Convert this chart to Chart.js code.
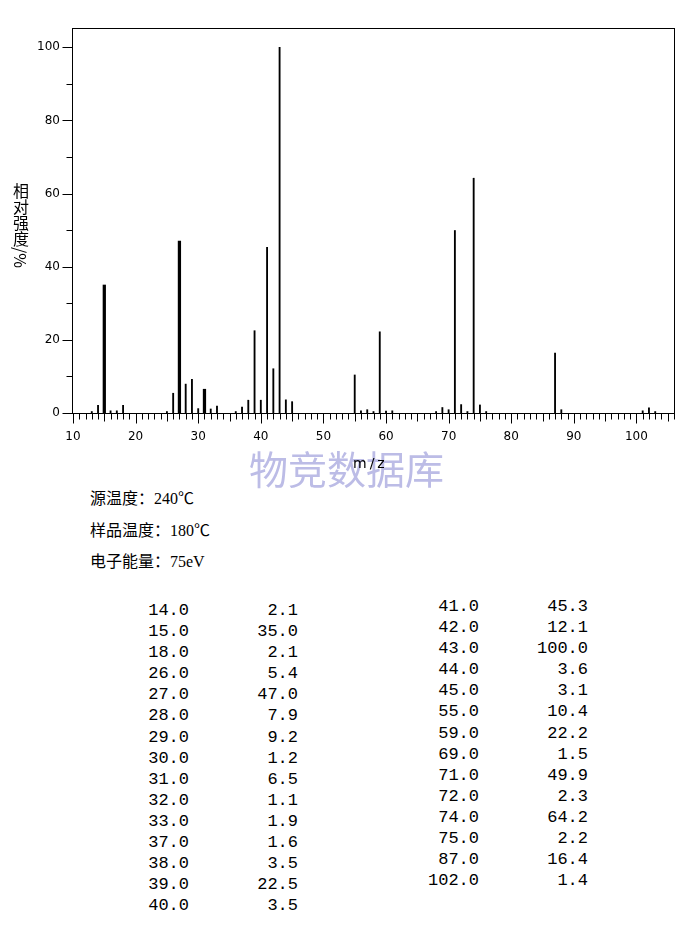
<!DOCTYPE html>
<html lang="zh">
<head>
  <meta charset="UTF-8">
  <title>质谱图</title>
  <script src="https://cdn.jsdelivr.net/npm/chart.js"></script>
  <style>
    body {
      margin: 0;
      width: 696px;
      height: 935px;
      background: #fff;
      position: relative;
      overflow: hidden;
    }
    #chart {
      position: absolute;
      left: 0;
      top: 0;
    }
    .abs { position: absolute; white-space: nowrap; }
    #ytitle {
      left: 12px;
      top: 183px;
      writing-mode: vertical-rl;
      font: 16px "Noto Sans CJK SC", sans-serif;
      line-height: 18px;
      color: #000;
    }
    #watermark {
      left: 249px;
      top: 442px;
      font: 39px "Noto Sans CJK SC", sans-serif;
      line-height: 50px;
      color: #bcbce6;
    }
    #xtitle {
      left: 353px;
      top: 455px;
      font: 14px "DejaVu Sans", sans-serif;
      letter-spacing: 3px;
      color: #000;
    }
    .info {
      left: 90px;
      font: 16px "Liberation Serif", "Noto Sans CJK SC", serif;
      line-height: 20px;
      color: #000;
    }
    .col {
      position: absolute;
      font: 17px "Liberation Mono", monospace;
      line-height: 21.1px;
      text-align: right;
      color: #000;
    }
  </style>
</head>
<body>

  <canvas id="chart" width="696" height="445"></canvas>

  <div id="ytitle" class="abs">相对强度/%</div>
  <div id="watermark" class="abs">物竞数据库</div>
  <div id="xtitle" class="abs">m/z</div>

  <div class="abs info" style="top:489px">源温度：240℃</div>
  <div class="abs info" style="top:521px">样品温度：180℃</div>
  <div class="abs info" style="top:552px">电子能量：75eV</div>

  <div id="mzLeft" class="col" style="left:120px; width:69px; top:600px"></div>
  <div id="intLeft" class="col" style="left:220px; width:78px; top:600px"></div>
  <div id="mzRight" class="col" style="left:400px; width:79px; top:596px"></div>
  <div id="intRight" class="col" style="left:500px; width:88px; top:596px"></div>

  <script>
    // m/z et intensités relatives (%)
    const mz = [13, 14, 15, 16, 17, 18, 25, 26, 27, 28, 29, 30, 31, 32, 33, 36, 37, 38, 39, 40,
                41, 42, 43, 44, 45, 55, 56, 57, 58, 59, 60, 61, 68, 69, 70, 71, 72, 73, 74, 75,
                76, 87, 88, 101, 102, 103];
    const intensity = [0.4, 2.1, 35.0, 0.6, 0.6, 2.1, 0.4, 5.4, 47.0, 7.9, 9.2, 1.2, 6.5, 1.1, 1.9, 0.4, 1.6, 3.5, 22.5, 3.5,
                       45.3, 12.1, 100.0, 3.6, 3.1, 10.4, 0.6, 0.9, 0.4, 22.2, 0.5, 0.6, 0.4, 1.5, 0.9, 49.9, 2.3, 0.4, 64.2, 2.2,
                       0.4, 16.4, 0.9, 0.6, 1.4, 0.4];
    const xTicks = [10, 20, 30, 40, 50, 60, 70, 80, 90, 100];
    const yTicks = [0, 20, 40, 60, 80, 100];
    const thickPeaks = [15, 27, 31];

    const points = mz.map((m, i) => ({ x: m, y: intensity[i] }));

    // Tableau des pics (>= 1 %)
    const listed = points.filter(p => p.y >= 1);
    const leftRows = listed.slice(0, 15);
    const rightRows = listed.slice(15);
    const fmt = rows => rows.map(p => p.x.toFixed(1)).join('<br>');
    const fmtI = rows => rows.map(p => p.y.toFixed(1)).join('<br>');
    document.getElementById('mzLeft').innerHTML = fmt(leftRows);
    document.getElementById('intLeft').innerHTML = fmtI(leftRows);
    document.getElementById('mzRight').innerHTML = fmt(rightRows);
    document.getElementById('intRight').innerHTML = fmtI(rightRows);

    // cadre + graduations
    const frame = {
      id: 'frame',
      afterDraw(chart) {
        const { ctx, chartArea: a, scales: { x, y } } = chart;
        ctx.save();
        ctx.strokeStyle = '#000';
        ctx.lineWidth = 1;
        const L = Math.round(a.left) - 0.5, R = Math.round(a.right) + 0.5;
        const T = Math.round(a.top) - 0.5, B = Math.round(a.bottom) + 0.5;
        ctx.strokeRect(L, T, R - L, B - T);
        ctx.beginPath();
        for (let v = x.min; v <= x.max; v++) {
          const px = Math.round(x.getPixelForValue(v)) + 0.5;
          const len = v % 10 === 0 ? 10 : (v % 5 === 0 ? 8 : 6);
          ctx.moveTo(px, B);
          ctx.lineTo(px, B + len);
        }
        for (let v = 0; v <= 100; v += 10) {
          const py = Math.round(y.getPixelForValue(v)) + 0.5;
          const len = v % 20 === 0 ? 10 : 6;
          ctx.moveTo(L - len, py);
          ctx.lineTo(L, py);
        }
        ctx.stroke();
        ctx.restore();
      }
    };

    const tickFont = { family: 'DejaVu Sans', size: 12 };

    new Chart(document.getElementById('chart'), {
      type: 'bar',
      data: {
        datasets: [
          {
            data: points.filter(p => !thickPeaks.includes(p.x)),
            backgroundColor: '#000',
            barThickness: 1.2,
            grouped: false
          },
          {
            data: points.filter(p => thickPeaks.includes(p.x)),
            backgroundColor: '#000',
            barThickness: 2.6,
            grouped: false
          }
        ]
      },
      options: {
        responsive: false,
        animation: false,
        layout: { padding: { left: 0, top: 29, right: 22, bottom: 0 } },
        plugins: {
          legend: { display: false },
          tooltip: { enabled: false }
        },
        scales: {
          x: {
            type: 'linear',
            min: 10,
            max: 106,
            offset: false,
            border: { display: false },
            grid: { display: false, drawTicks: false },
            afterBuildTicks: s => { s.ticks = xTicks.map(v => ({ value: v })); },
            afterFit: s => { s.height = 32; },
            ticks: { padding: 17, font: tickFont, color: '#000', maxRotation: 0 }
          },
          y: {
            min: 0,
            max: 105,
            border: { display: false },
            grid: { display: false, drawTicks: false },
            afterBuildTicks: s => { s.ticks = yTicks.map(v => ({ value: v })); },
            afterFit: s => { s.width = 73; },
            ticks: { padding: 13, font: tickFont, color: '#000' }
          }
        }
      },
      plugins: [frame]
    });
  </script>
</body>
</html>
